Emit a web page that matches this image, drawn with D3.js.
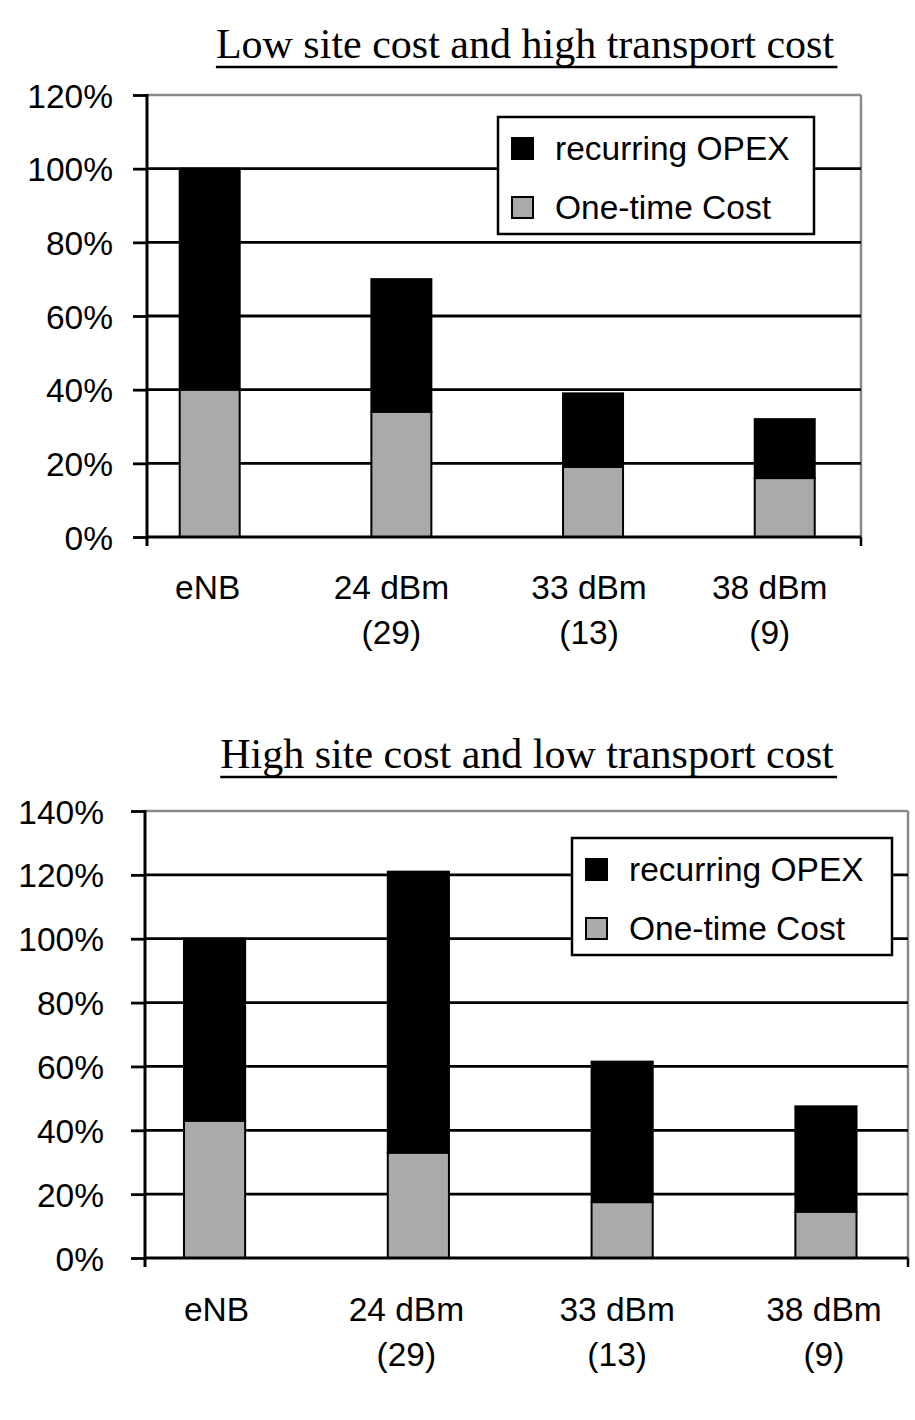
<!DOCTYPE html>
<html>
<head>
<meta charset="utf-8">
<script src="https://cdn.jsdelivr.net/npm/d3@7"></script>
<style>
  html, body { margin: 0; padding: 0; background: #fff; }
  svg { display: block; }
</style>
</head>
<body>
<script>
// ---------------- DATA ----------------
const categories = ["eNB", "24 dBm", "33 dBm", "38 dBm"];
const subLabels = ["", "(29)", "(13)", "(9)"];
const seriesNames = ["One-time Cost", "recurring OPEX"];

const titleLow = "Low site cost and high transport cost";
const oneTimeLow = [0.40, 0.34, 0.19, 0.16];
const opexLow    = [0.60, 0.36, 0.20, 0.16];
const ticksLow   = [0, 0.2, 0.4, 0.6, 0.8, 1.0, 1.2];

const titleHigh = "High site cost and low transport cost";
const oneTimeHigh = [0.43, 0.33, 0.175, 0.145];
const opexHigh    = [0.57, 0.88, 0.44, 0.33];
const ticksHigh   = [0, 0.2, 0.4, 0.6, 0.8, 1.0, 1.2, 1.4];

// ---------------- DRAW ----------------
const W = 915, H = 1420;
const svg = d3.select("body").append("svg").attr("width", W).attr("height", H);

const colors = { "One-time Cost": "#aaaaaa", "recurring OPEX": "#000000" };
const sansFont = "'Liberation Sans', Arial, sans-serif";
const serifFont = "'Liberation Serif', 'Times New Roman', serif";
const FS = 33.5;

function drawChart(cfg) {
  const g = svg.append("g");
  const rows = categories.map((c, i) => ({
    cat: c, "One-time Cost": cfg.oneTime[i], "recurring OPEX": cfg.opex[i]
  }));
  const stacked = d3.stack().keys(seriesNames)(rows);

  const x = d3.scaleBand().domain(categories)
    .range([cfg.x0, cfg.x1])
    .paddingInner(cfg.pInner).paddingOuter(cfg.pOuter).align(cfg.align);
  const ymax = cfg.ticks[cfg.ticks.length - 1];
  const y = d3.scaleLinear().domain([0, ymax]).range([cfg.y0, cfg.y1]);

  // title
  const t = g.append("text")
    .attr("x", cfg.titleX).attr("y", cfg.titleY)
    .attr("text-anchor", "middle")
    .attr("font-family", serifFont).attr("font-size", 42)
    .attr("fill", "#000").text(cfg.title);
  const bb = t.node().getBBox();
  g.append("line")
    .attr("x1", bb.x).attr("x2", bb.x + bb.width + 3)
    .attr("y1", cfg.titleY + 9).attr("y2", cfg.titleY + 9)
    .attr("stroke", "#000").attr("stroke-width", 2.5);

  // frame (top and right, gray)
  g.append("line").attr("x1", cfg.x0).attr("x2", cfg.x1)
    .attr("y1", y(ymax)).attr("y2", y(ymax))
    .attr("stroke", "#8a8a8a").attr("stroke-width", 2.5);
  g.append("line").attr("x1", cfg.x1).attr("x2", cfg.x1)
    .attr("y1", y(ymax)).attr("y2", y(0))
    .attr("stroke", "#8a8a8a").attr("stroke-width", 2.5);
  g.append("line").attr("x1", cfg.x1).attr("x2", cfg.x1)
    .attr("y1", y(0)).attr("y2", y(0) + 9)
    .attr("stroke", "#000").attr("stroke-width", 2.5);

  // gridlines
  g.append("g").selectAll("line")
    .data(cfg.ticks.filter(v => v > 0 && v < ymax))
    .join("line")
    .attr("x1", cfg.x0).attr("x2", cfg.x1)
    .attr("y1", d => y(d)).attr("y2", d => y(d))
    .attr("stroke", "#000").attr("stroke-width", 2.8);

  // bars
  g.append("g").selectAll("g")
    .data(stacked).join("g")
    .attr("fill", d => colors[d.key])
    .selectAll("rect")
    .data(d => d).join("rect")
    .attr("x", d => x(d.data.cat))
    .attr("width", x.bandwidth())
    .attr("y", d => y(d[1]))
    .attr("height", d => y(d[0]) - y(d[1]))
    .attr("stroke", "#000").attr("stroke-width", 2);

  // baseline
  g.append("line").attr("x1", cfg.x0).attr("x2", cfg.x1)
    .attr("y1", y(0)).attr("y2", y(0))
    .attr("stroke", "#000").attr("stroke-width", 2.8);

  // y axis
  const yAxis = d3.axisLeft(y).tickValues(cfg.ticks)
    .tickFormat(d3.format(".0%")).tickSize(14).tickPadding(cfg.tickPad);
  const ya = g.append("g").attr("transform", `translate(${cfg.x0},0)`).call(yAxis);
  ya.select(".domain").remove();
  ya.selectAll(".tick line").attr("stroke", "#000").attr("stroke-width", 2.8);
  ya.selectAll(".tick text")
    .attr("font-family", sansFont).attr("font-size", FS).attr("fill", "#000")
    .attr("dy", "0.36em");
  g.append("line").attr("x1", cfg.x0).attr("x2", cfg.x0)
    .attr("y1", y(ymax) - 1).attr("y2", y(0) + 9)
    .attr("stroke", "#000").attr("stroke-width", 3);

  // x labels
  const xl = g.append("g").selectAll("text")
    .data(categories).join("text")
    .attr("x", (d, i) => x(d) + x.bandwidth() / 2 + cfg.labelShift[i])
    .attr("y", cfg.labelY)
    .attr("text-anchor", "middle")
    .attr("font-family", sansFont).attr("font-size", FS).attr("fill", "#000");
  xl.append("tspan").text(d => d);
  xl.append("tspan")
    .attr("x", (d, i) => x(d) + x.bandwidth() / 2 + cfg.labelShift[i])
    .attr("dy", 45)
    .text((d, i) => subLabels[i]);

  // legend
  const lg = g.append("g").attr("transform", `translate(${cfg.legX},${cfg.legY})`);
  lg.append("rect").attr("width", cfg.legW).attr("height", 117)
    .attr("fill", "#fff").attr("stroke", "#000").attr("stroke-width", 2.5);
  const legendOrder = ["recurring OPEX", "One-time Cost"];
  const li = lg.selectAll("g.item").data(legendOrder).join("g")
    .attr("transform", (d, i) => `translate(0,${21 + i * 59})`);
  li.append("rect").attr("x", 14).attr("y", 0).attr("width", 21).attr("height", 21)
    .attr("fill", d => colors[d]).attr("stroke", "#000").attr("stroke-width", 2);
  li.append("text").attr("x", 57).attr("y", 22)
    .attr("font-family", sansFont).attr("font-size", FS).attr("fill", "#000")
    .text(d => d);
}

drawChart({
  title: titleLow, titleX: 525, titleY: 58,
  oneTime: oneTimeLow, opex: opexLow, ticks: ticksLow,
  x0: 147, x1: 861, y0: 537, y1: 95,
  pInner: 0.687, pOuter: 0.206, align: 0.414,
  tickPad: 20, labelY: 599, labelShift: [-2, -10, -4, -15],
  legX: 498, legY: 117, legW: 316
});

drawChart({
  title: titleHigh, titleX: 527, titleY: 768,
  oneTime: oneTimeHigh, opex: opexHigh, ticks: ticksHigh,
  x0: 145, x1: 908, y0: 1258, y1: 811,
  pInner: 0.70, pOuter: 0.222, align: 0.431,
  tickPad: 27, labelY: 1321, labelShift: [2, -12, -5, -2],
  legX: 572, legY: 838, legW: 320
});
</script>
</body>
</html>
